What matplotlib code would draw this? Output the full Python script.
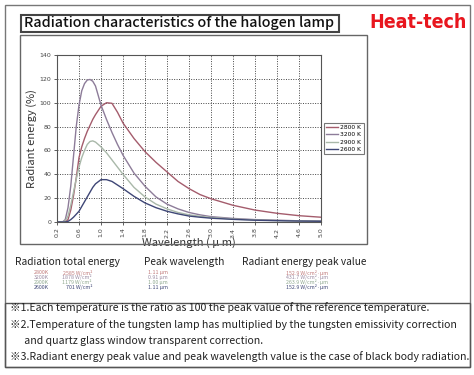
import matplotlib
matplotlib.use('Agg')
import matplotlib.pyplot as plt
from matplotlib.patches import Rectangle

W, H = 474, 375

# wavelength (um)
wl = [0.2, 0.3, 0.35, 0.4, 0.45, 0.5, 0.55, 0.6, 0.65, 0.7, 0.75, 0.8, 0.85, 0.9, 1.0, 1.1,
      1.2, 1.3, 1.4, 1.6, 1.8, 2.0, 2.2, 2.4, 2.6, 2.8, 3.0, 3.4, 3.8, 4.2, 4.6, 5.0]
# radiant energy (%)
e2800 = [0, 0, 0, 2, 10, 22, 37, 54, 63, 70, 76, 81, 86, 90, 97, 100,
         99.5, 92, 83, 70, 59, 50, 42, 34, 28, 23, 19.5, 14, 10, 7.3, 5.3, 4]
e3200 = [0, 0, 2, 12, 30, 55, 80, 98, 110, 116, 119, 119.5, 118, 114, 98, 86,
         75, 65, 56, 41, 30, 21, 15, 11, 8, 6, 4.5, 3, 2, 1.5, 1, 0.8]
e2900 = [0, 0, 1, 5, 14, 25, 36, 46, 54, 60, 65, 67.5, 68, 67, 63, 58,
         52, 46, 40, 29, 21, 15, 11, 8, 6, 4.8, 3.8, 2.5, 1.7, 1.2, 0.9, 0.7]
e2600 = [0, 0, 0, 0.5, 2, 4, 6.5, 9, 13, 17, 21, 25, 29, 32, 35.5, 35.5,
         34, 31, 28, 21.5, 16, 12, 9, 6.8, 5, 4, 3.2, 2.2, 1.5, 1.1, 0.8, 0.6]

labels = ['2800 K', '3200 K', '2900 K', '2600 K']
series = [e2800, e3200, e2900, e2600]
colors = ['#a45c6c', '#8d7c99', '#a9b8a9', '#3e4676']
text_colors = ['#c07878', '#9a8aa2', '#8fa88f', '#3e4676']

temps = ['2800K', '3200K', '2900K', '2600K']
total_energy = ['2585 W/cm²', '1878 W/cm²', '1179 W/cm²', '701 W/cm²']
peak_wl = ['1.11 μm', '0.91 μm', '1.00 μm', '1.11 μm']
peak_val = ['152.9 W/cm²·μm', '431.7 W/cm²·μm', '263.9 W/cm²·μm', '152.9 W/cm²·μm']

notes = ['※1.Each temperature is the ratio as 100 the peak value of the reference temperature.',
         '※2.Temperature of the tungsten lamp has multiplied by the tungsten emissivity correction',
         '      and quartz glass window transparent correction.',
         '※3.Radiant energy peak value and peak wavelength value is the case of black body radiation.']

jp = ['Noto Sans CJK JP', 'DejaVu Sans']

fig = plt.figure(figsize=(W / 100, H / 100), dpi=100)


def fx(x):
    return x / W


def fy(y):
    return 1 - y / H


def box(x0, y0, x1, y1, lw=1.0, ec='#555555'):
    fig.patches.append(Rectangle((fx(x0), fy(y1)), fx(x1) - fx(x0), fy(y0) - fy(y1),
                                 transform=fig.transFigure, fill=False, lw=lw, ec=ec))


# frames
box(5, 5, 470, 367, lw=1.0, ec='#777777')
box(5, 303, 470, 367, lw=1.0, ec='#555555')
box(20, 35, 367, 244, lw=1.0, ec='#666666')
box(21, 15, 339, 32, lw=1.5, ec='#444444')

fig.text(fx(24), fy(23.5), 'Radiation characteristics of the halogen lamp', fontsize=10.3,
         family=jp, weight='medium', va='center', ha='left', color='#111111')
fig.text(fx(418), fy(22), 'Heat-tech', fontsize=14, family='DejaVu Sans', stretch='condensed',
         weight='bold', color='#e8161e', ha='center', va='center')

# chart
ax = fig.add_axes([fx(57), fy(222), fx(321) - fx(57), fy(55) - fy(222)])
for s, c, lab in zip(series, colors, labels):
    ax.plot(wl, s, color=c, lw=1.0, label=lab)
ax.set_xlim(0.2, 5.0)
ax.set_ylim(0, 140)
ax.set_xticks([0.2 + 0.4 * i for i in range(13)])
ax.set_xticklabels(['%.1f' % (0.2 + 0.4 * i) for i in range(13)], rotation=90)
ax.set_yticks(range(0, 141, 20))
ax.tick_params(labelsize=4.5, colors='#444444', length=2, width=0.6, pad=2)
ax.grid(True, linestyle=(0, (1, 1.5)), color='#444444', lw=0.7)
for sp in ax.spines.values():
    sp.set_color('#555555')
    sp.set_linewidth(0.8)
ax.set_ylabel('Radiant energy (%)', fontsize=8, family=jp, color='#333333', labelpad=2)
ax.set_xlabel('Wavelength ( μ m)', fontsize=8, family=jp, color='#333333', labelpad=0)
leg = ax.legend(loc='center left', bbox_to_anchor=(1.01, 0.5), fontsize=4.3, frameon=True,
                fancybox=False, edgecolor='#555555', handlelength=2.0, borderpad=0.4,
                labelspacing=0.35, handletextpad=0.4, borderaxespad=0)
leg.get_frame().set_linewidth(0.8)

# energy table
fig.text(fx(15), fy(262), 'Radiation total energy', fontsize=7.3, family=jp, va='center', color='#222222')
fig.text(fx(144), fy(262), 'Peak wavelength', fontsize=7.3, family=jp, va='center', color='#222222')
fig.text(fx(242), fy(262), 'Radiant energy peak value', fontsize=7.3, family=jp, va='center', color='#222222')
for i in range(4):
    y = 272.5 + 4.9 * i
    c = text_colors[i]
    fig.text(fx(34), fy(y), temps[i], fontsize=3.8, family=jp, va='center', color=c)
    fig.text(fx(92), fy(y), total_energy[i], fontsize=3.8, family=jp, va='center', ha='right', color=c)
    fig.text(fx(158), fy(y), peak_wl[i], fontsize=3.8, family=jp, va='center', ha='center', color=c)
    fig.text(fx(307), fy(y), peak_val[i], fontsize=3.8, family=jp, va='center', ha='center', color=c)

# notes
for i, (n, y) in enumerate(zip(notes, [308, 325, 341, 357])):
    fig.text(fx(10), fy(y), n, fontsize=7.6, family=jp, va='center', color='#222222')

fig.savefig('out.png', dpi=100)
